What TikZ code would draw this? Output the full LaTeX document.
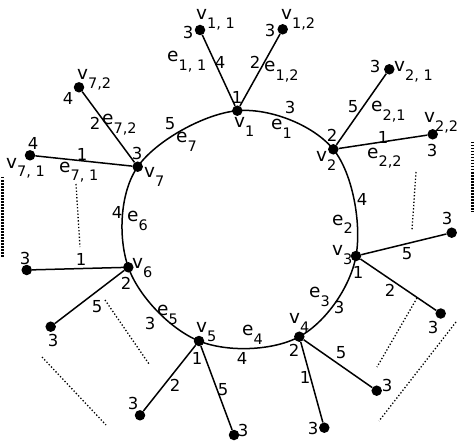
\documentclass[tikz,border=0pt]{standalone}
\usepackage{fontspec}
\setmainfont{DejaVu Sans}
\newcommand\lb[2]{\fontsize{18.5}{20}\selectfont #1\raisebox{-9pt}{\fontsize{14.5}{15}\selectfont #2}}
\begin{document}
\begin{tikzpicture}[x=1pt,y=-1pt,
  dot/.style={circle,fill=black,inner sep=0pt,minimum size=10.5pt},
  port/.style={inner sep=0pt,font=\fontsize{16.5}{17}\selectfont},
  lbl/.style={inner sep=0pt,anchor=base west},
  edge/.style={line width=1.5pt},
  fine dots/.style={line width=1.3pt,dash pattern=on 1.3pt off 2pt},
  heavy dots/.style={line width=3pt,dash pattern=on 1.5pt off 1.5pt}]
\useasboundingbox (0,0) rectangle (474,441);
% cycle vertices
\node[dot] (v1) at (237.3,110.7) {};
\node[dot] (v2) at (333.3,149.3) {};
\node[dot] (v3) at (356,256) {};
\node[dot] (v4) at (299.3,336.7) {};
\node[dot] (v5) at (199,341) {};
\node[dot] (v6) at (128.3,267.3) {};
\node[dot] (v7) at (137.7,166.7) {};
% leaves
\node[dot] (v11) at (200,30) {};
\node[dot] (v12) at (282.7,29.3) {};
\node[dot] (v21) at (389.3,69.3) {};
\node[dot] (v22) at (432.7,134.3) {};
\node[dot] (l31) at (451.7,232.7) {};
\node[dot] (l32) at (440.7,313.5) {};
\node[dot] (l41) at (376.7,390.7) {};
\node[dot] (l42) at (324.3,427.7) {};
\node[dot] (l51) at (140,415.3) {};
\node[dot] (l52) at (234,435) {};
\node[dot] (l61) at (26.7,270) {};
\node[dot] (l62) at (50.7,326.7) {};
\node[dot] (v71) at (30,155.3) {};
\node[dot] (v72) at (79,87.3) {};
% cycle
\draw[edge] plot[smooth cycle, tension=0.6] coordinates {(v1.center) (v2.center) (v3.center) (v4.center) (v5.center) (v6.center) (v7.center)};
% pendant edges
\draw[edge] (v1) -- (v11);
\draw[edge] (v1) -- (v12);
\draw[edge] (v2) -- (v21);
\draw[edge] (v2) -- (v22);
\draw[edge] (v3) -- (l31);
\draw[edge] (v3) -- (l32);
\draw[edge] (v4) -- (l41);
\draw[edge] (v4) -- (l42);
\draw[edge] (v5) -- (l51);
\draw[edge] (v5) -- (l52);
\draw[edge] (v6) -- (l61);
\draw[edge] (v6) -- (l62);
\draw[edge] (v7) -- (v71);
\draw[edge] (v7) -- (v72);
% dotted marks
\draw[fine dots] (76,184) -- (80,247);
\draw[fine dots] (105,300) -- (149,364);
\draw[fine dots] (42,357) -- (106,425);
\draw[fine dots] (416,172) -- (412,230);
\draw[fine dots] (417,298) -- (377,367);
\draw[fine dots] (456,322) -- (379,421);
\draw[heavy dots] (2,177) -- (2,258);
\draw[heavy dots] (472,142) -- (472,212);
% labels
\node[lbl] (t11) at (196,20) {\lb{v}{1, 1}};
\node[lbl] (t12) at (281,20) {\lb{v}{1,2}};
\node[lbl] (te11) at (167,62) {\lb{e}{1, 1}};
\node[lbl] (te12) at (264,72) {\lb{e}{1,2}};
\node[lbl] (tv1) at (234,128) {\lb{v}{1}};
\node[lbl] (te1) at (271,130) {\lb{e}{1}};
\node[lbl] (te7) at (176,143) {\lb{e}{7}};
\node[lbl] (t21) at (394,72) {\lb{v}{2, 1}};
\node[lbl] (te21) at (371,112) {\lb{e}{2,1}};
\node[lbl] (t22) at (424,123) {\lb{v}{2,2}};
\node[lbl] (te22) at (367,158) {\lb{e}{2,2}};
\node[lbl] (tv2) at (316,162) {\lb{v}{2}};
\node[lbl] (te2) at (332,225) {\lb{e}{2}};
\node[lbl] (tv3) at (332,255) {\lb{v}{3}};
\node[lbl] (te3) at (309,297) {\lb{e}{3}};
\node[lbl] (tv4) at (289,323) {\lb{v}{4}};
\node[lbl] (tv5) at (196,332) {\lb{v}{5}};
\node[lbl] (te4) at (242,335) {\lb{e}{4}};
\node[lbl] (te5) at (157,315) {\lb{e}{5}};
\node[lbl] (te6) at (127,222) {\lb{e}{6}};
\node[lbl] (tv6) at (132,268) {\lb{v}{6}};
\node[lbl] (t72) at (77,80) {\lb{v}{7,2}};
\node[lbl] (te72) at (102,125) {\lb{e}{7,2}};
\node[lbl] (t71) at (6,168) {\lb{v}{7, 1}};
\node[lbl] (te71) at (59,172) {\lb{e}{7, 1}};
\node[lbl] (tv7) at (144,178) {\lb{v}{7}};
% port numbers
\node[port] (p01) at (188,32) {3};
\node[port] (p02) at (270,30) {3};
\node[port] (p03) at (220,62) {4};
\node[port] (p04) at (255,62) {2};
\node[port] (p05) at (237,97) {1};
\node[port] (p06) at (290,107) {3};
\node[port] (p07) at (170,124) {5};
\node[port] (p08) at (375,66) {3};
\node[port] (p09) at (353,107) {5};
\node[port] (p10) at (383,137) {1};
\node[port] (p11) at (432,150) {3};
\node[port] (p12) at (332,135) {2};
\node[port] (p13) at (362,199) {4};
\node[port] (p14) at (358,272) {1};
\node[port] (p15) at (407,254) {5};
\node[port] (p16) at (447,218) {3};
\node[port] (p17) at (390,290) {2};
\node[port] (p18) at (433,327) {3};
\node[port] (p19) at (339,307) {3};
\node[port] (p20) at (294,350) {2};
\node[port] (p21) at (341,353) {5};
\node[port] (p22) at (305,377) {1};
\node[port] (p23) at (387,385) {3};
\node[port] (p24) at (313,428) {3};
\node[port] (p25) at (150,323) {3};
\node[port] (p26) at (197,358) {1};
\node[port] (p27) at (242,358) {4};
\node[port] (p28) at (175,385) {2};
\node[port] (p29) at (223,390) {5};
\node[port] (p30) at (133,403) {3};
\node[port] (p31) at (243,430) {3};
\node[port] (p32) at (117,212) {4};
\node[port] (p33) at (25,258) {3};
\node[port] (p34) at (81,259) {1};
\node[port] (p35) at (126,283) {2};
\node[port] (p36) at (97,307) {5};
\node[port] (p37) at (53,340) {3};
\node[port] (p38) at (68,98) {4};
\node[port] (p39) at (95,123) {2};
\node[port] (p40) at (33,143) {4};
\node[port] (p41) at (82,154) {1};
\node[port] (p42) at (137,153) {3};
\end{tikzpicture}
\end{document}
